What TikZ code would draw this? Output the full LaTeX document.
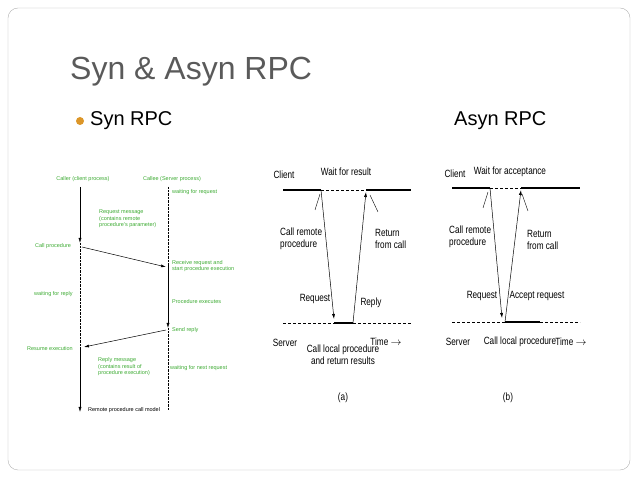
\documentclass[tikz,border=0pt]{standalone}
\usepackage{fontspec}
\setmainfont{Liberation Sans}
\newfontfamily\narrowsans{Liberation Sans}[FakeStretch=0.78]
\usetikzlibrary{arrows.meta, positioning, calc}
\definecolor{titlegray}{RGB}{90,90,90}
\definecolor{labelgreen}{RGB}{60,170,50}
\definecolor{bulletorange}{RGB}{220,150,40}
\tikzset{
    lbl/.style={font=\fontsize{5.5}{6.5}\selectfont, text=labelgreen, align=left, inner sep=0pt},
    tl/.style={font=\narrowsans\fontsize{10.5}{12}\selectfont, inner sep=0pt, align=center},
    bar/.style={line width=2.2pt},
    waitline/.style={densely dashed, line width=0.4pt},
    msg/.style={-{Latex[length=5pt,width=3pt]}, line width=0.5pt},
    ptr/.style={line width=0.4pt}
}
\begin{document}
\begin{tikzpicture}[x=1pt, y=-1pt]
    \useasboundingbox (0,0) rectangle (638,478);
    \draw[gray!60, rounded corners=10pt] (8,8) rectangle (630,470);

    % Title and bullets
    \node[anchor=west, text=titlegray, font=\fontsize{32}{35}\selectfont, inner sep=0pt] (title) at (70,72) {Syn \& Asyn RPC};
    \fill[bulletorange] (80,121) circle (4pt);
    \node[anchor=west, font=\fontsize{20}{22}\selectfont, inner sep=0pt] (syn) at (90,121) {Syn RPC};
    \node[anchor=west, font=\fontsize{20}{22}\selectfont, inner sep=0pt] (asyn) at (454,121) {Asyn RPC};

    % Remote procedure call model
    \node[lbl] (caller) at (83,179) {Caller (client process)};
    \node[lbl] (callee) at (172,179) {Callee (Server process)};
    \coordinate (c0) at (80,187);  \coordinate (c1) at (80,243);
    \coordinate (c2) at (80,348);  \coordinate (c3) at (80,412);
    \coordinate (s0) at (168,187); \coordinate (s1) at (168,265);
    \coordinate (s2) at (168,328); \coordinate (s3) at (168,410);
    \draw[msg] (c0) -- (c1);
    \draw[densely dotted] (c1) -- (c2);
    \draw[msg] (c2) -- (c3);
    \draw[densely dotted] (s0) -- (s1);
    \draw[msg] (s1) -- (s2);
    \draw[densely dotted] (s2) -- (s3);
    \coordinate (rq0) at (82,247); \coordinate (rq1) at (166,267);
    \coordinate (rp0) at (166,330); \coordinate (rp1) at (84,347);
    \draw[msg] (rq0) -- (rq1);
    \draw[msg] (rp0) -- (rp1);
    \node[lbl, anchor=west] (wreq) at (172,192) {waiting for request};
    \node[lbl, anchor=west] (reqmsg) at (99,219) {Request message\\(contains remote\\procedure's parameter)};
    \node[lbl, anchor=west] (callp) at (35,246) {Call procedure};
    \node[lbl, anchor=west] (recv) at (172,266) {Receive request and\\start procedure execution};
    \node[lbl, anchor=west] (wrep) at (34,294) {waiting for reply};
    \node[lbl, anchor=west] (pexec) at (172,302) {Procedure executes};
    \node[lbl, anchor=west] (sendr) at (172,330) {Send reply};
    \node[lbl, anchor=west] (resume) at (27,349) {Resume execution};
    \node[lbl, anchor=west] (repmsg) at (98,367) {Reply message\\(contains result of\\procedure execution)};
    \node[lbl, anchor=west] (wnext) at (170,368) {waiting for next request};
    \node[lbl, anchor=west, text=black] (model) at (88,410) {Remote procedure call model};

    % (a) synchronous
    \node[tl] (aclient) at (284,175) {Client};
    \node[tl] (await) at (346,172) {Wait for result};
    \coordinate (a1) at (283,190); \coordinate (a2) at (321,190);
    \coordinate (a3) at (366,190); \coordinate (a4) at (411,190);
    \coordinate (a5) at (283,323); \coordinate (a6) at (334,323);
    \coordinate (a7) at (353,323); \coordinate (a8) at (411,323);
    \draw[bar] (a1) -- (a2);  \draw[waitline] (a2) -- (a3);  \draw[bar] (a3) -- (a4);
    \draw[waitline] (a5) -- (a6); \draw[bar] (a6) -- (a7);  \draw[waitline] (a7) -- (a8);
    \draw[msg] (a2) -- ($(a6)+(0,-4)$);
    \draw[msg] (a7) -- ($(a3)+(0,2)$);
    \node[tl, anchor=west, align=left] (acall) at (280,239) {Call remote\\procedure};
    \node[tl, anchor=west, align=left] (aret) at (375,239) {Return\\from call};
    \draw[ptr] (315,210) -- (320,194);
    \draw[ptr] (378,212) -- (370,195);
    \node[tl] (areq) at (315,299) {Request};
    \node[tl] (arep) at (371,303) {Reply};
    \node[tl] (aserv) at (285,343) {Server};
    \node[tl] (alocal) at (343,355) {Call local procedure\\and return results};
    \node[tl] (atime) at (386,342) {Time $\rightarrow$};
    \node[tl] (acap) at (343,398) {(a)};

    % (b) asynchronous
    \node[tl] (bclient) at (455,174) {Client};
    \node[tl] (bwait) at (510,172) {Wait for acceptance};
    \coordinate (b1) at (452,188); \coordinate (b2) at (490,188);
    \coordinate (b3) at (521,188); \coordinate (b4) at (580,188);
    \coordinate (b5) at (452,322); \coordinate (b6) at (505,322);
    \coordinate (b7) at (540,322); \coordinate (b8) at (580,322);
    \draw[bar] (b1) -- (b2);  \draw[waitline] (b2) -- (b3);  \draw[bar] (b3) -- (b4);
    \draw[waitline] (b5) -- (b6); \draw[bar] (b6) -- (b7);  \draw[waitline] (b7) -- (b8);
    \draw[msg] (b2) -- (502,318);
    \draw[msg] (b6) -- ($(b3)+(0,2)$);
    \node[tl, anchor=west, align=left] (bcall) at (449,237) {Call remote\\procedure};
    \node[tl, anchor=west, align=left] (bret) at (527,240) {Return\\from call};
    \draw[ptr] (483,208) -- (488,192);
    \draw[ptr] (528,211) -- (522,194);
    \node[tl] (breq) at (482,296) {Request};
    \node[tl] (bacc) at (537,296) {Accept request};
    \node[tl] (bserv) at (458,342) {Server};
    \node[tl] (blocal) at (520,342) {Call local procedure};
    \node[tl] (btime) at (571,342) {Time $\rightarrow$};
    \node[tl] (bcap) at (508,398) {(b)};
\end{tikzpicture}
\end{document}
